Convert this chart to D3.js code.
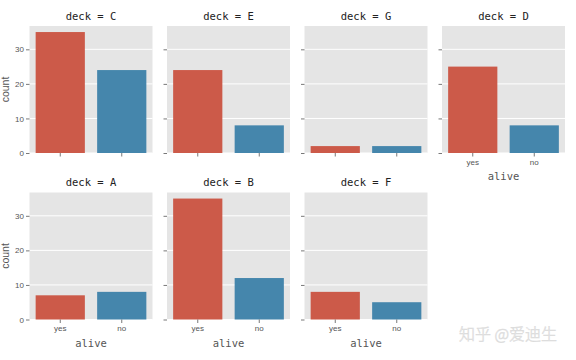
<!DOCTYPE html>
<html><head><meta charset="utf-8">
<script src="https://cdn.jsdelivr.net/npm/d3@7"></script>
<style>body{margin:0;background:#fff}svg{display:block}</style>
</head><body>
<script>
const decks = ["C", "E", "G", "D", "A", "B", "F"];
const aliveCats = ["yes", "no"];
const yesCounts = [35, 24, 2, 25, 7, 35, 8];
const noCounts = [24, 8, 2, 8, 8, 12, 5];
const yTicks = [0, 10, 20, 30];
const colors = ["#cc5a49", "#4586ac"];

const W = 576, H = 360;
const svg = d3.select("body").append("svg").attr("width", W).attr("height", H);

const colX = [29.5, 167, 304.5, 442];
const rowY = [26, 192.5];
const pw = 123, ph = 127;
const ymax = 36.75;

decks.forEach((deck, i) => {
  const col = i % 4, row = Math.floor(i / 4);
  const x0 = colX[col], y0 = rowY[row];
  const g = svg.append("g").attr("transform", `translate(${x0},${y0})`);
  const x = d3.scaleBand().domain(aliveCats).range([0, pw]).paddingInner(0.2).paddingOuter(0.1);
  const y = d3.scaleLinear().domain([0, ymax]).range([ph, 0]);
  g.append("rect").attr("width", pw).attr("height", ph).attr("fill", "#e5e5e5");
  g.selectAll("line.grid").data(yTicks).join("line").attr("class", "grid")
    .attr("x1", 0).attr("x2", pw).attr("y1", d => y(d)).attr("y2", d => y(d))
    .attr("stroke", "#fff").attr("stroke-width", 1);
  const vals = [yesCounts[i], noCounts[i]];
  g.selectAll("rect.bar").data(aliveCats).join("rect").attr("class", "bar")
    .attr("x", d => x(d)).attr("width", x.bandwidth())
    .attr("y", (d, j) => y(vals[j])).attr("height", (d, j) => ph - y(vals[j]))
    .attr("fill", (d, j) => colors[j]);

  const yAx = d3.axisLeft(y).tickValues(yTicks).tickSize(3.5).tickPadding(2)
    .tickFormat(col === 0 ? d3.format("d") : () => "");
  const ya = g.append("g").call(yAx);
  ya.select(".domain").remove();
  ya.selectAll(".tick line").attr("stroke", "#555").attr("stroke-width", 0.8);
  ya.selectAll(".tick text").attr("fill", "#555").style("font-family", "Liberation Sans, sans-serif").style("font-size", "8px");

  const showX = (row === 1) || (col === 3);
  const xAx = d3.axisBottom(x).tickSize(3.5).tickPadding(2.5)
    .tickFormat(showX ? (d => d) : () => "");
  const xa = g.append("g").attr("transform", `translate(0,${ph})`).call(xAx);
  xa.select(".domain").remove();
  xa.selectAll(".tick line").attr("stroke", "#555").attr("stroke-width", 0.8);
  xa.selectAll(".tick text").attr("fill", "#555").style("font-family", "Liberation Sans, sans-serif").style("font-size", "8px");

  if (showX) {
    g.append("text").attr("x", pw / 2).attr("y", ph + 27)
      .attr("text-anchor", "middle").attr("fill", "#555")
      .style("font-family", "DejaVu Sans Mono, monospace").style("font-size", "10.5px")
      .text("alive");
  }
  if (col === 0) {
    g.append("text").attr("transform", `translate(${-x0 + 9},${ph / 2}) rotate(-90)`)
      .attr("text-anchor", "middle").attr("fill", "#555")
      .style("font-family", "Liberation Sans, sans-serif").style("font-size", "10.5px")
      .text("count");
  }
  g.append("text").attr("x", pw / 2).attr("y", -6.5)
    .attr("text-anchor", "middle").attr("fill", "#222")
    .style("font-family", "DejaVu Sans Mono, monospace").style("font-size", "10.5px")
    .text(`deck = ${deck}`);
});

svg.append("text").attr("x", 508).attr("y", 340).attr("text-anchor", "middle")
  .attr("fill", "#f2f2f2").attr("stroke", "#d9d9d9").attr("stroke-width", 0.5)
  .style("font-family", "Noto Sans CJK SC, sans-serif").style("font-size", "16px")
  .style("font-weight", "300")
  .text("知乎 @爱迪生");
</script>
</body></html>
